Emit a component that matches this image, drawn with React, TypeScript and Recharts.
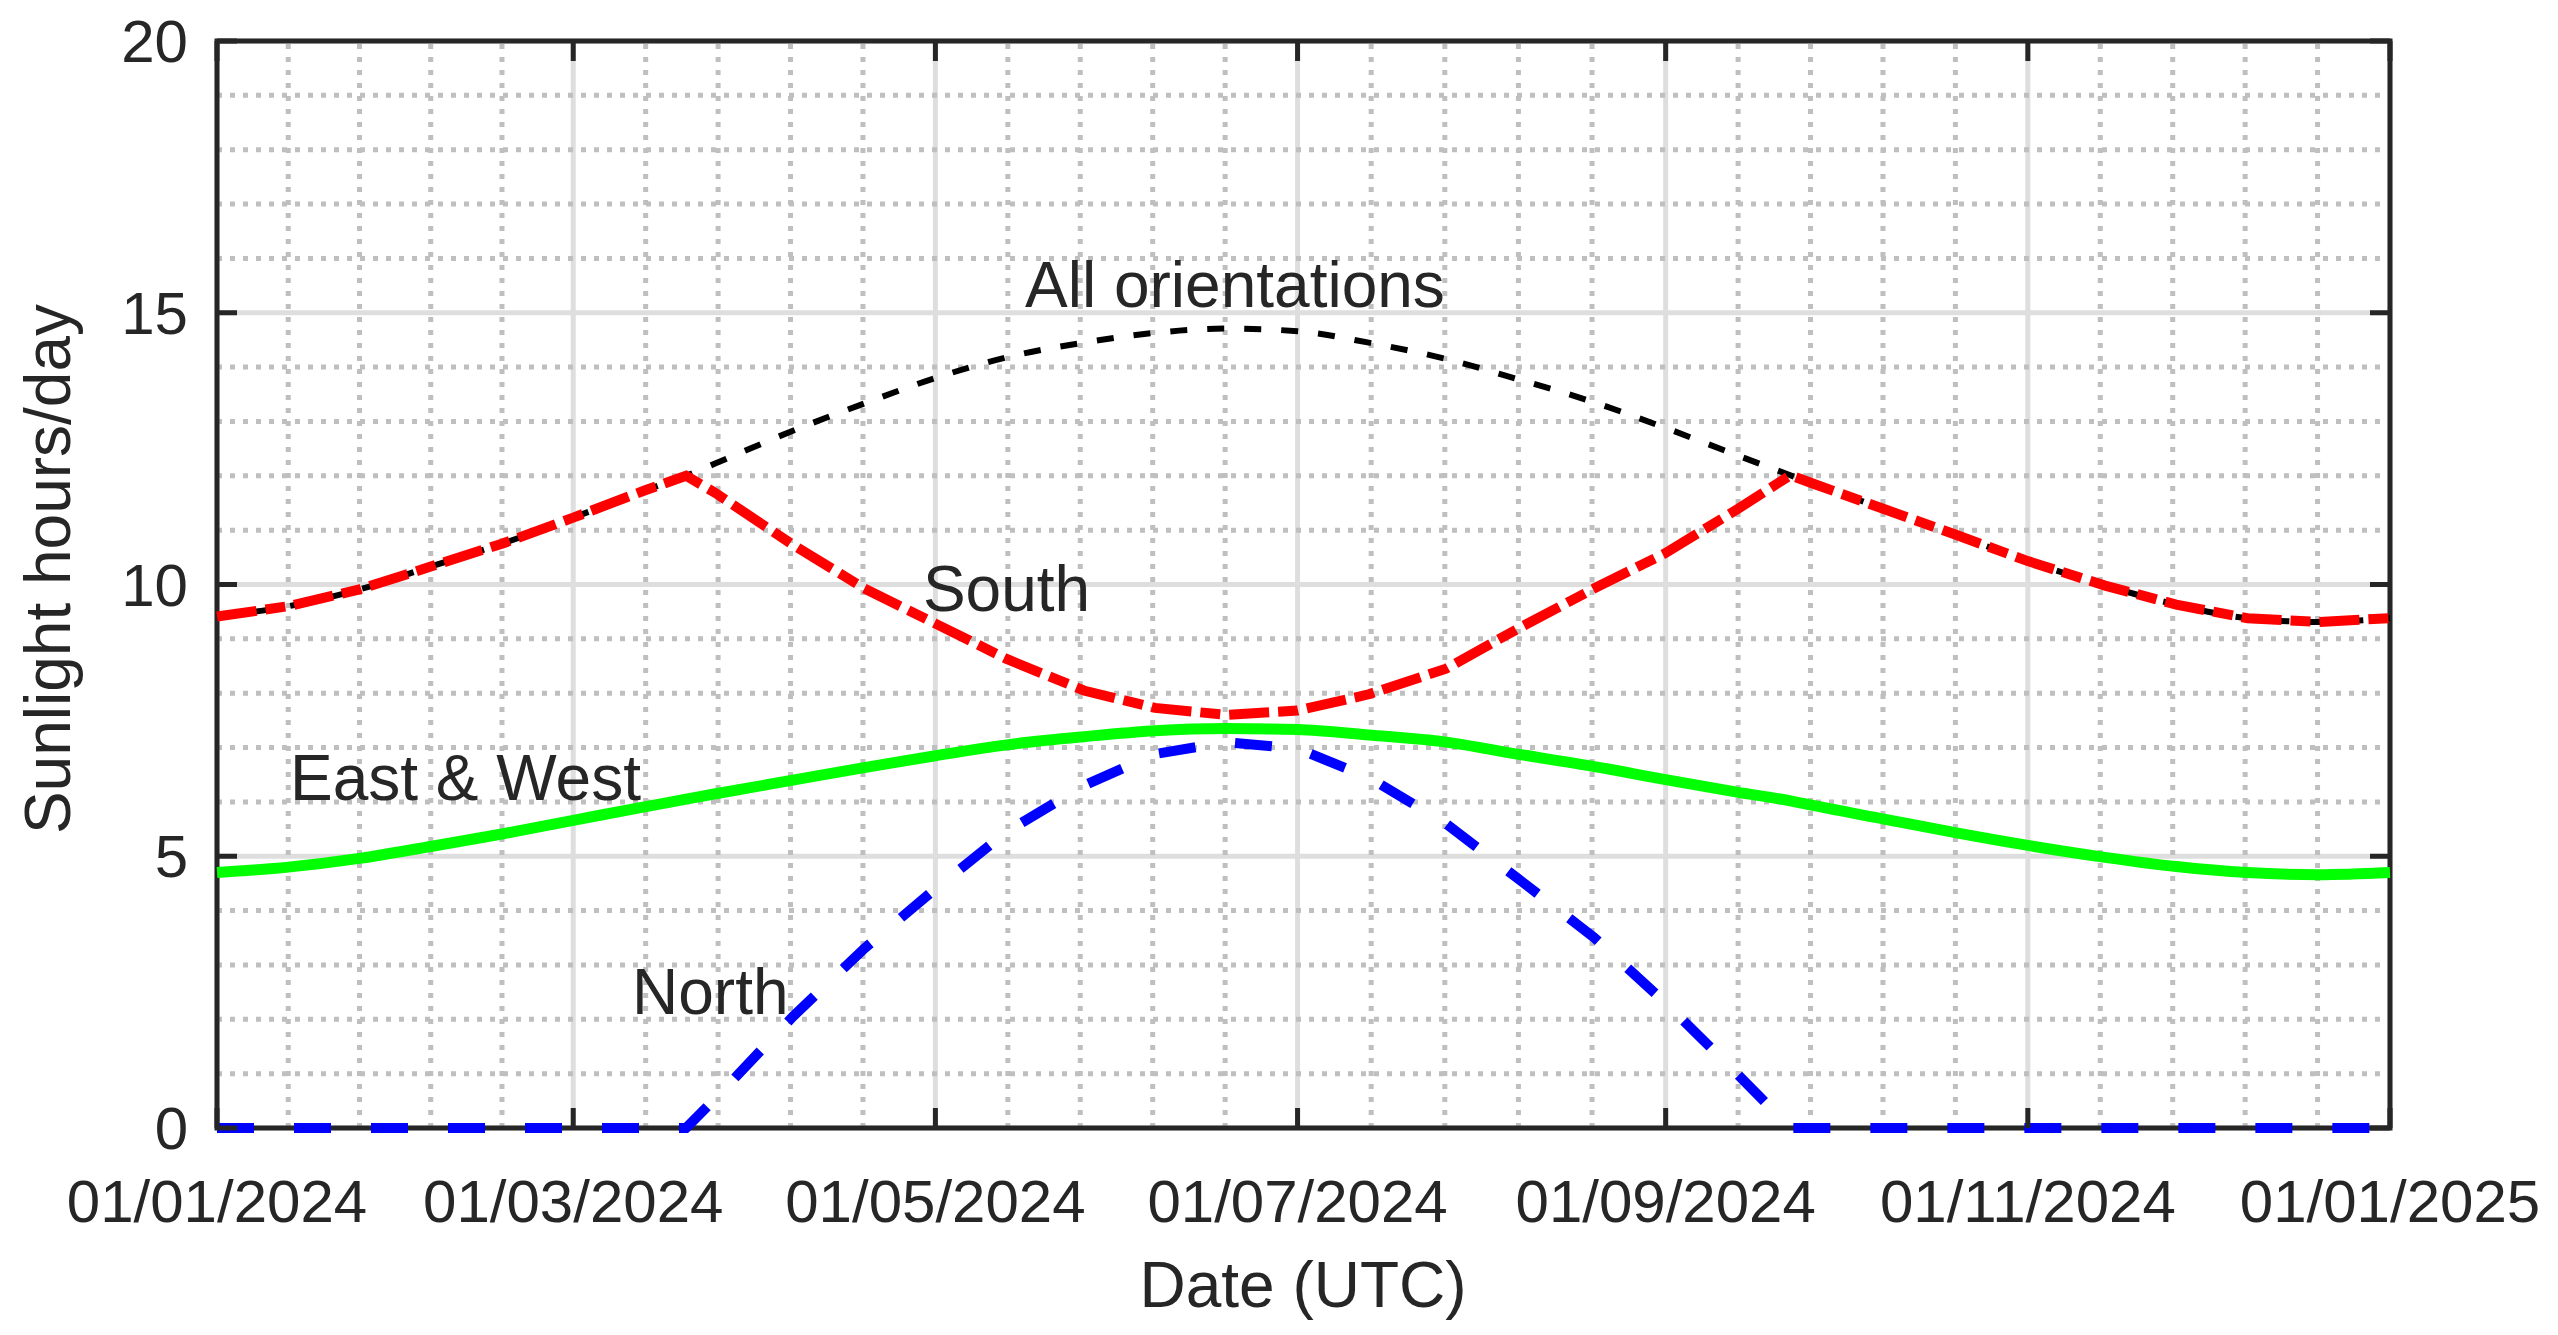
import React from "react";
import {
  LineChart,
  Line,
  XAxis,
  YAxis,
  CartesianGrid,
  ReferenceLine,
  ReferenceArea,
  ReferenceDot,
  Label,
} from "recharts";

// day of year (0 = 01/01/2024)
const days = [
  0, 12, 24, 36, 48, 60, 72, 79, 84, 97, 109, 121, 133, 146, 158, 170, 182, 194, 207, 219,
  232, 244, 256, 265, 269, 281, 293, 305, 318, 330, 342, 354, 366,
];
const allOrientations = [
  9.41, 9.6, 9.91, 10.33, 10.75, 11.23, 11.73, 12.0, 12.23, 12.83, 13.33, 13.8, 14.18, 14.45,
  14.63, 14.71, 14.66, 14.45, 14.15, 13.78, 13.35, 12.88, 12.38, 12.01, 11.85, 11.38, 10.91,
  10.43, 9.98, 9.63, 9.38, 9.31, 9.38,
];
const south = [
  9.41, 9.6, 9.91, 10.33, 10.75, 11.23, 11.73, 12.0, 11.68, 10.73, 9.93, 9.28, 8.63, 8.05, 7.73,
  7.6, 7.68, 7.98, 8.45, 9.18, 9.93, 10.58, 11.38, 12.01, 11.85, 11.38, 10.91, 10.43, 9.98,
  9.63, 9.38, 9.31, 9.38,
];
const eastWest = [
  4.7, 4.8, 4.96, 5.18, 5.41, 5.66, 5.91, 6.05, 6.15, 6.4, 6.63, 6.85, 7.05, 7.2, 7.31, 7.35,
  7.33, 7.23, 7.1, 6.88, 6.65, 6.41, 6.18, 6.02, 5.93, 5.68, 5.43, 5.2, 4.98, 4.81, 4.7, 4.66,
  4.7,
];
const north = [
  0, 0, 0, 0, 0, 0, 0, 0, 0.55, 2.05, 3.3, 4.4, 5.45, 6.3, 6.88, 7.1, 6.98, 6.45, 5.6, 4.6, 3.5,
  2.3, 1.0, 0, 0, 0, 0, 0, 0, 0, 0, 0, 0,
];

const dateTicks = [0, 60, 121, 182, 244, 305, 366];
const dateLabels = [
  "01/01/2024",
  "01/03/2024",
  "01/05/2024",
  "01/07/2024",
  "01/09/2024",
  "01/11/2024",
  "01/01/2025",
];
const hourTicks = [0, 5, 10, 15, 20];

const annotations = [
  { text: "All orientations", day: 136.1, hours: 15.11 },
  { text: "South", day: 118.9, hours: 9.51 },
  { text: "East & West", day: 12.3, hours: 6.03 },
  { text: "North", day: 69.9, hours: 2.1 },
];

const data = days.map((day, i) => ({
  day,
  all: allOrientations[i],
  south: south[i],
  eastWest: eastWest[i],
  north: north[i],
}));

// minor grid: 4 evenly spaced lines between major ticks
const minorDays: number[] = [];
for (let i = 0; i < dateTicks.length - 1; i++) {
  const step = (dateTicks[i + 1] - dateTicks[i]) / 5;
  for (let k = 1; k < 5; k++) minorDays.push(dateTicks[i] + k * step);
}
const minorHours: number[] = [];
for (let h = 1; h < 20; h++) if (h % 5 !== 0) minorHours.push(h);

const W = 2558;
const H = 1335;
const plot = { left: 217, top: 41, right: 2390, bottom: 1128 };
const Y_AXIS_W = 150;
const X_AXIS_H = 120;
const font = "'Liberation Sans', Arial, Helvetica, sans-serif";
const ink = "#262626";

function DateTick(props: any) {
  const { x, payload } = props;
  const i = dateTicks.indexOf(payload.value);
  return (
    <g>
      <line x1={x} x2={x} y1={plot.bottom} y2={plot.bottom - 20} stroke={ink} strokeWidth={5} />
      <line x1={x} x2={x} y1={plot.top} y2={plot.top + 20} stroke={ink} strokeWidth={5} />
      <text x={x} y={1222} textAnchor="middle" fontSize={60} fill={ink} fontFamily={font}>
        {dateLabels[i]}
      </text>
    </g>
  );
}

function HourTick(props: any) {
  const { y, payload } = props;
  return (
    <g>
      <line x1={plot.left} x2={plot.left + 20} y1={y} y2={y} stroke={ink} strokeWidth={5} />
      <line x1={plot.right} x2={plot.right - 20} y1={y} y2={y} stroke={ink} strokeWidth={5} />
      <text x={188} y={y} dy={21} textAnchor="end" fontSize={60} fill={ink} fontFamily={font}>
        {payload.value}
      </text>
    </g>
  );
}

export default function App() {
  return (
    <div style={{ width: W, height: H, overflow: "hidden", background: "#fff" }}>
      <style>{"body{margin:0}"}</style>
      <LineChart
        width={W}
        height={H}
        data={data}
        margin={{
          top: plot.top,
          right: W - plot.right,
          bottom: H - plot.bottom - X_AXIS_H,
          left: plot.left - Y_AXIS_W,
        }}
        style={{ fontFamily: font }}
      >
        <CartesianGrid stroke="#dedede" strokeWidth={5} />
        {minorDays.map((d) => (
          <ReferenceLine
            key={"mx" + d}
            x={d}
            stroke="#bfbfbf"
            strokeWidth={5}
            strokeDasharray="5 8"
            zIndex={-90}
          />
        ))}
        {minorHours.map((h) => (
          <ReferenceLine
            key={"my" + h}
            y={h}
            stroke="#bfbfbf"
            strokeWidth={5}
            strokeDasharray="5 8"
            zIndex={-90}
          />
        ))}
        <ReferenceArea
          x1={0}
          x2={366}
          y1={0}
          y2={20}
          fill="none"
          fillOpacity={0}
          stroke={ink}
          strokeWidth={5}
          zIndex={-80}
        />
        <XAxis
          dataKey="day"
          type="number"
          domain={[0, 366]}
          ticks={dateTicks}
          interval={0}
          height={X_AXIS_H}
          axisLine={false}
          tickLine={false}
          tick={<DateTick />}
        >
          <Label
            content={() => (
              <text x={1303} y={1307} textAnchor="middle" fontSize={64} fill={ink} fontFamily={font}>
                Date (UTC)
              </text>
            )}
          />
        </XAxis>
        <YAxis
          type="number"
          domain={[0, 20]}
          ticks={hourTicks}
          interval={0}
          width={Y_AXIS_W}
          axisLine={false}
          tickLine={false}
          tick={<HourTick />}
        >
          <Label
            content={() => (
              <text
                transform="translate(70,569) rotate(-90)"
                textAnchor="middle"
                fontSize={64}
                fill={ink}
                fontFamily={font}
              >
                Sunlight hours/day
              </text>
            )}
          />
        </YAxis>
        <Line
          dataKey="all"
          type="monotone"
          stroke="#000000"
          strokeWidth={6}
          strokeDasharray="17 20"
          dot={false}
          activeDot={false}
          isAnimationActive={false}
        />
        <Line
          dataKey="south"
          type="linear"
          stroke="#ff0000"
          strokeWidth={10}
          strokeDasharray="40 9 20 9"
          dot={false}
          activeDot={false}
          isAnimationActive={false}
        />
        <Line
          dataKey="eastWest"
          type="monotone"
          stroke="#00ff00"
          strokeWidth={11}
          dot={false}
          activeDot={false}
          isAnimationActive={false}
        />
        <Line
          dataKey="north"
          type="linear"
          stroke="#0000ff"
          strokeWidth={10}
          strokeDasharray="37 40"
          dot={false}
          activeDot={false}
          isAnimationActive={false}
        />
        {annotations.map((a) => (
          <ReferenceDot
            key={a.text}
            x={a.day}
            y={a.hours}
            r={0}
            fill="none"
            stroke="none"
            label={(p: any) => (
              <text
                x={p.viewBox.x}
                y={p.viewBox.y}
                textAnchor="start"
                fontSize={64}
                fill={ink}
                fontFamily={font}
              >
                {a.text}
              </text>
            )}
          />
        ))}
      </LineChart>
    </div>
  );
}
